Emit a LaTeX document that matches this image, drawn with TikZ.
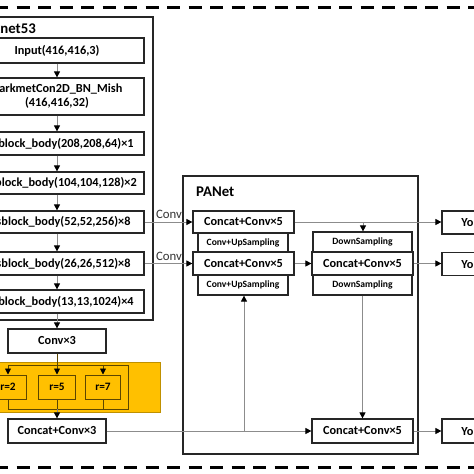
\documentclass[tikz,border=0pt]{standalone}
\usepackage{fontspec}
\setmainfont{Carlito}
\usetikzlibrary{arrows.meta}
\definecolor{ylw}{HTML}{FFC000}
\definecolor{ybrd}{HTML}{5C4600}
\definecolor{lncol}{HTML}{8C8C8C}
\begin{document}
\begin{tikzpicture}[x=1pt,y=-1pt,
  box/.style={draw=black!85, line width=1.2pt, fill=white, inner sep=0pt, align=center,
    font=\fontsize{12.3}{14}\selectfont\bfseries},
  sbox/.style={box, font=\fontsize{9.6}{11}\selectfont\bfseries},
  rbox/.style={draw=ybrd, line width=1pt, fill=ylw, inner sep=0pt, minimum height=24pt,
    font=\fontsize{11.3}{12}\selectfont\bfseries},
  frame/.style={draw=black!85, line width=1.2pt},
  conn/.style={draw=lncol, line width=0.8pt},
  arr/.style={conn, -{Triangle[length=6pt,width=6pt,color=black]}},
  yconn/.style={draw=ybrd, line width=0.9pt},
  yarr/.style={yconn, -{Triangle[length=6pt,width=6pt,color=black]}},
  dashline/.style={line width=3pt, dash pattern=on 13pt off 8.5pt, dash phase=5pt},
  lbl/.style={font=\fontsize{12.8}{14}\selectfont, text=black!80, inner sep=0pt},
  ttl/.style={font=\fontsize{14.8}{16}\selectfont\bfseries, inner sep=0pt},
]
\useasboundingbox (0,0) rectangle (474,474);
\clip (0,0) rectangle (474,474);
\fill[white] (0,0) rectangle (474,474);

% dashed separators
\draw[dashline] (0,7) -- (474,7);
\draw[dashline] (0,467) -- (474,467);

% ---------------- CSPDarknet53 ----------------
\draw[frame] (-20,17) rectangle (153,320);
\node[ttl, anchor=east] (bbtitle) at (36,28) {CSPDarknet53};

\node[box, minimum width=174pt, minimum height=25pt] (inp) at (57,50.5) {Input(416,416,3)};
\node[box, minimum width=174pt, minimum height=37pt] (dark) at (57,96.5) {DarkmetCon2D\_BN\_Mish\\(416,416,32)};
\node[box, minimum width=174pt, minimum height=23pt] (rb1) at (57,143.5) {Resblock\_body(208,208,64)×1};
\node[box, minimum width=174pt, minimum height=22pt] (rb2) at (57,183) {Resblock\_body(104,104,128)×2};
\node[box, minimum width=174pt, minimum height=22pt] (rb3) at (57,222) {Resblock\_body(52,52,256)×8};
\node[box, minimum width=174pt, minimum height=23pt] (rb4) at (57,263.5) {Resblock\_body(26,26,512)×8};
\node[box, minimum width=174pt, minimum height=23pt] (rb5) at (57,301.5) {Resblock\_body(13,13,1024)×4};

\draw[arr] (inp) -- (dark);
\draw[arr] (dark) -- (rb1);
\draw[arr] (rb1) -- (rb2);
\draw[arr] (rb2) -- (rb3);
\draw[arr] (rb3) -- (rb4);
\draw[arr] (rb4) -- (rb5);

% ---------------- SPP ----------------
\node[box, minimum width=98pt, minimum height=24pt] (conv3) at (57,341) {Conv×3};
\draw[arr] (rb5) -- (conv3);

\fill[ylw] (-10,362) rectangle (160,412);
\draw[ylw!75!black, line width=0.8pt] (-10,362) rectangle (160,412);

\coordinate (bt1) at (8,365);
\coordinate (bt2) at (57,365);
\coordinate (bt3) at (103,365);
\coordinate (bt4) at (128,365);
\coordinate (bb1) at (8,409);
\coordinate (bb2) at (57,409);
\coordinate (bb3) at (103,409);
\coordinate (bb4) at (128,409);

\node[rbox, minimum width=37pt] (r2) at (8,387) {r=2};
\node[rbox, minimum width=37pt] (r5) at (57,387) {r=5};
\node[rbox, minimum width=35pt] (r7) at (103,387) {r=7};

\draw[yconn] (conv3.south) -- (bt2);
\draw[yconn] (bt1) -- (bt4) -- (bb4) -- (bb1);
\draw[yarr] (bt1) -- (r2.north);
\draw[yarr] (bt2) -- (r5.north);
\draw[yarr] (bt3) -- (r7.north);
\draw[yconn] (r2.south) -- (bb1);
\draw[yconn] (r5.south) -- (bb2);
\draw[yconn] (r7.south) -- (bb3);

\node[box, minimum width=98pt, minimum height=24pt] (c3) at (57,431) {Concat+Conv×3};
\draw[arr] (bb2) -- (c3.north);

% ---------------- PANet ----------------
\draw[frame] (183,176) rectangle (418,454);
\node[ttl, anchor=west] (pantitle) at (196,192) {PANet};

\node[sbox, minimum width=90pt, minimum height=19pt] (ups1) at (243,242.5) {Conv+UpSampling};
\node[sbox, minimum width=90pt, minimum height=20pt] (ups2) at (243,285) {Conv+UpSampling};
\node[box, minimum width=101pt, minimum height=22pt] (cc1) at (243.5,222) {Concat+Conv×5};
\node[box, minimum width=101pt, minimum height=23pt] (cc2) at (243.5,263.5) {Concat+Conv×5};

\node[sbox, minimum width=99pt, minimum height=20pt] (ds1) at (362.5,242) {DownSampling};
\node[sbox, minimum width=99pt, minimum height=20pt] (ds2) at (362.5,285) {DownSampling};
\node[box, minimum width=101pt, minimum height=23pt] (mid) at (362.5,263.5) {Concat+Conv×5};
\node[box, minimum width=101pt, minimum height=24pt] (bot) at (362.5,431) {Concat+Conv×5};

% YoloHeads
\node[box, minimum width=90pt, minimum height=23pt] (y1) at (487,222.5) {Yolo Head};
\node[box, minimum width=90pt, minimum height=23pt] (y2) at (487,264) {Yolo Head};
\node[box, minimum width=90pt, minimum height=24pt] (y3) at (487,431) {Yolo Head};

% backbone -> PANet
\draw[arr] (rb3.east) -- (cc1.west);
\draw[arr] (rb4.east) -- (cc2.west);
\node[lbl] (l1) at (169,214.5) {Conv};
\node[lbl] (l2) at (169,256) {Conv};

% PANet connections
\coordinate (br1) at (363,222);
\draw[arr] (cc1.east) -- (cc1.east -| y1.west);
\draw[arr] (br1) -- (br1 |- ds1.north);
\draw[arr] (cc2.east) -- (mid.west);
\draw[arr] (mid.east) -- (mid.east -| y2.west);
\draw[arr] (ds2.south) -- (bot.north);
\coordinate (br2) at (244,431);
\draw[arr] (c3.east) -- (bot.west);
\draw[arr] (br2) -- (br2 |- ups2.south);
\draw[arr] (bot.east) -- (y3.west);
\end{tikzpicture}
\end{document}
